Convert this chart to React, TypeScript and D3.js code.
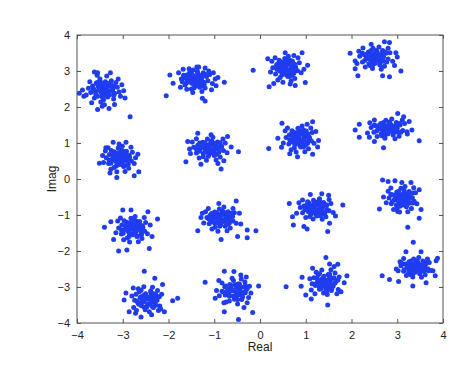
import * as d3 from 'd3';
import React, { useRef, useEffect } from 'react';

// cluster centres (real, imag)
const centres: [number, number][] = [
  [-3.40, 2.48], [-1.42, 2.75], [0.56, 3.07], [2.50, 3.37],
  [-3.08, 0.57], [-1.12, 0.85], [0.85, 1.12], [2.78, 1.40],
  [-2.80, -1.38], [-0.87, -1.10], [1.20, -0.83], [3.10, -0.55],
  [-2.47, -3.35], [-0.55, -3.12], [1.42, -2.88], [3.38, -2.45],
];

// scatter around each centre
const s1 = [[0,0],[-0.12,0.07],[0.09,-0.07],[-0.05,-0.12],[0.12,0.12],[-0.2,-0.04],[0.02,0.22],[0.18,0.02],[-0.15,-0.18],[-0.07,0.14],[0.07,-0.2],[0.22,-0.1],[-0.26,0.1],[-0.02,-0.28],[0.15,0.25],[-0.3,-0.08],[0.28,0.07],[-0.1,0.3],[0.04,0.04],[-0.18,0.18],[-0.04,-0.03],[0.11,-0.15],[-0.22,-0.23],[0.25,0.2],[-0.08,-0.34],[0.32,-0.06],[-0.35,0.04],[0.05,0.38],[-0.16,0.4],[0.2,-0.26],[-0.4,-0.15],[0.35,-0.18],[-0.28,-0.36],[0,-0.42],[0.3,0.3],[-0.48,-0.01],[-0.22,0.49],[-0.15,0.47],[0.38,0.14],[0.13,0.47],[-0.55,-0.1],[-0.45,-0.18],[0.42,-0.03],[0.1,-0.52],[-0.15,-0.55],[-0.05,-0.46],[0.45,-0.23],[0.22,-0.41],[0.56,-0.75],[-0.32,0.22],[0.14,-0.03],[-0.06,0.09],[0.03,-0.1],[-0.13,-0.01],[0.08,0.17],[-0.24,0.03],
  [0.05,0.05],[-0.08,-0.06],[0.16,-0.02],[-0.14,0.11],[0.03,-0.16],[-0.02,0.17],[0.2,0.1],[-0.19,-0.12],[0.1,-0.11],[-0.1,0.02],[0.07,0.09],[-0.16,0.2],[0.13,0.18],[-0.05,-0.2],[0.21,-0.15],[-0.24,-0.02],[0.0,0.1],[0.17,0.05],[-0.09,0.22],[0.06,-0.06]];
const s2 = [[0.02,0.01],[-0.1,0.08],[0.12,-0.05],[-0.06,-0.1],[0.08,0.14],[-0.17,-0.02],[0.15,0.06],[0.01,-0.17],[-0.12,0.2],[0.2,-0.12],[-0.22,-0.14],[0.05,0.24],[0.25,0.1],[-0.03,0.12],[0.1,-0.2],[-0.25,0.13],[0.18,0.2],[-0.08,-0.25],[0.28,-0.02],[-0.3,0.03],[0.06,-0.04],[-0.14,0.05],[0.13,0.02],[-0.04,0.28],[0.22,-0.22],[-0.18,-0.26],[0.32,0.15],[-0.32,-0.2],[0.38,-0.1],[0.08,0.36],[-0.05,-0.35],[0.3,0.25],[-0.36,0.2],[0.44,0.03],[-0.26,0.3],[0.15,-0.32],[0.16,-0.51],[0.22,-0.58],[0.36,-0.27],[-0.28,-0.05],[0.5,0.07],[0.64,-0.06],[-0.48,-0.09],[-0.55,0.14],[-0.63,-0.44],[0.04,0.36],[0.22,0.33],[-0.13,0.31],[0.4,0.2],[0.46,-0.16],[-0.01,-0.08],[0.07,0.07],[-0.09,-0.02],[0.1,0.1],
  [-0.04,0.04],[0.09,-0.08],[-0.15,0.0],[0.14,0.12],[0.0,-0.14],[-0.07,0.17],[0.19,-0.06],[-0.2,-0.1],[0.06,0.19],[-0.11,-0.06],[0.11,0.04],[-0.02,-0.22],[0.23,0.15],[-0.18,0.14],[0.04,-0.1],[0.16,-0.17],[-0.09,0.1],[0.02,0.07],[-0.23,0.06],[0.12,-0.13]];
const s3 = [[0,0],[-0.09,0.06],[0.1,-0.04],[-0.04,-0.11],[0.06,0.12],[-0.15,-0.05],[0.14,0.08],[0.02,-0.18],[-0.1,0.18],[0.18,-0.13],[-0.2,0.1],[0.05,0.22],[0.22,0.04],[-0.05,0.09],[0.09,-0.22],[-0.22,-0.15],[0.15,0.2],[-0.12,-0.25],[0.26,-0.06],[-0.28,0.02],[0.04,-0.05],[-0.13,0.03],[0.12,0.01],[-0.02,0.28],[0.2,-0.28],[-0.17,-0.32],[0.3,0.16],[-0.3,0.2],[0.34,-0.12],[0.06,0.34],[-0.06,-0.38],[0.27,0.3],[-0.33,-0.1],[0.12,-0.35],[-0.23,0.3],[0.08,-0.06],[-0.07,-0.02],[0.03,0.15],[-0.71,-0.05],[-0.36,-0.51],[0.21,-0.47],[0.43,-0.39],[0.48,0.09],[0.36,0.44],[-0.01,0.44],[-0.39,0.27],[0.4,-0.02],[-0.26,-0.42],[0.1,-0.43],[0.18,0.36],
  [0.03,-0.03],[-0.06,0.1],[0.12,0.06],[-0.12,-0.08],[0.07,-0.13],[-0.02,0.19],[0.17,-0.08],[-0.17,0.13],[0.09,0.17],[-0.08,-0.18],[0.14,-0.18],[-0.19,-0.02],[0.0,0.08],[0.2,0.12],[-0.1,0.04],[0.05,-0.22],[-0.04,-0.08],[0.11,0.22],[-0.14,0.23],[0.21,-0.02]];
const s4 = [[0,0],[-0.11,0.05],[0.09,-0.06],[-0.05,-0.1],[0.07,0.1],[-0.18,-0.03],[0.16,0.05],[0.01,-0.16],[-0.13,0.16],[0.2,-0.1],[-0.22,0.08],[0.04,0.2],[0.25,0.12],[-0.06,0.08],[0.12,-0.2],[-0.26,-0.12],[0.18,0.2],[-0.1,-0.22],[0.3,-0.04],[-0.32,0.04],[0.05,-0.03],[-0.15,0.02],[0.13,0.03],[-0.03,0.26],[0.22,-0.24],[-0.2,-0.26],[0.34,0.14],[-0.34,0.18],[0.4,-0.1],[0.1,0.3],[-0.04,-0.3],[0.3,0.26],[-0.38,-0.16],[0.15,-0.32],[-0.25,0.27],[0.08,-0.05],[-0.08,-0.01],[0.02,0.13],[0.58,-0.37],[0.33,-0.53],[0.18,-0.5],[-0.36,-0.5],[-0.42,-0.31],[-0.53,0.12],[-0.42,-0.09],[0.22,0.44],[-0.07,0.37],[0.47,0.14],[0.33,0.42],[0.44,-0.22],[0.5,0.02],
  [-0.02,0.03],[0.1,0.07],[-0.09,-0.05],[0.15,-0.09],[-0.16,0.1],[0.02,-0.12],[0.06,0.17],[-0.21,-0.08],[0.2,0.02],[-0.07,0.2],[0.12,-0.16],[-0.12,-0.17],[0.24,0.16],[-0.26,0.12],[0.0,0.09],[0.17,0.12],[-0.04,-0.21],[0.08,-0.02],[-0.14,0.0],[0.27,-0.12]];
const s5 = [[0,0],[-0.1,0.07],[0.1,-0.05],[-0.05,-0.11],[0.08,0.13],[-0.16,-0.03],[0.15,0.07],[0.02,-0.17],[-0.11,0.19],[0.19,-0.12],[-0.21,0.11],[0.05,0.23],[0.23,0.03],[-0.04,0.1],[0.1,-0.22],[-0.23,-0.14],[0.16,0.2],[-0.11,-0.25],[0.27,-0.07],[-0.28,0.02],[0.04,-0.04],[-0.13,0.04],[0.12,0.02],[-0.02,0.29],[0.21,-0.27],[-0.18,-0.3],[0.29,0.17],[-0.3,0.21],[0.33,-0.14],[0.07,0.34],[-0.05,-0.37],[0.26,0.31],[-0.34,-0.11],[0.13,-0.36],[-0.24,0.3],[0.07,-0.07],[-0.06,-0.01],[0.03,0.14],[-0.05,-0.53],[0.33,-0.48],[0.43,-0.37],[-0.43,-0.13],[-0.13,0.45],[0.15,0.45],[0.41,0.12],[-0.29,0.3],[0.36,0.02],[-0.36,0.08],[0.0,0.4],[-0.2,-0.4],
  [0.04,0.02],[-0.08,-0.07],[0.13,0.1],[-0.13,0.08],[0.02,-0.13],[-0.03,0.16],[0.18,-0.04],[-0.18,-0.13],[0.09,0.2],[-0.1,0.0],[0.08,-0.09],[-0.17,0.22],[0.15,0.16],[-0.06,-0.21],[0.2,-0.16],[-0.22,-0.04],[0.01,0.07],[0.12,-0.2],[-0.07,0.12],[0.22,0.08]];
const s6 = [[0,0],[-0.12,0.06],[0.11,-0.06],[-0.06,-0.1],[0.09,0.11],[-0.19,-0.03],[0.17,0.06],[0.01,-0.16],[-0.13,0.17],[0.22,-0.11],[-0.24,0.09],[0.05,0.2],[0.27,0.05],[-0.05,0.09],[0.12,-0.2],[-0.27,-0.13],[0.19,0.18],[-0.12,-0.23],[0.32,-0.06],[-0.33,0.03],[0.05,-0.04],[-0.15,0.03],[0.14,0.02],[-0.03,0.26],[0.25,-0.24],[-0.21,-0.27],[0.36,0.15],[-0.36,0.18],[0.4,-0.12],[0.09,0.31],[-0.05,-0.33],[0.31,0.26],[-0.4,-0.14],[0.16,-0.32],[-0.27,0.27],[0.08,-0.06],[-0.08,-0.02],[0.03,0.12],[0.65,-0.09],[-0.5,-0.37],[0.27,-0.57],[-0.17,-0.44],[-0.24,0.42],[-0.46,0.19],[0.41,0.33],[0.49,0.04],[0.2,-0.42],[0.05,0.38],[-0.42,-0.02],[0.33,-0.34],
  [-0.03,0.02],[0.1,-0.09],[-0.16,0.04],[0.13,0.13],[0.02,-0.13],[-0.08,0.16],[0.21,-0.03],[-0.21,-0.08],[0.07,0.2],[-0.12,-0.14],[0.12,0.0],[-0.01,-0.22],[0.25,0.16],[-0.2,0.15],[0.05,-0.08],[0.17,-0.16],[-0.1,0.08],[0.03,0.09],[-0.27,-0.02],[0.28,0.05]];
const s7 = [[0,0],[-0.1,0.06],[0.1,-0.05],[-0.05,-0.12],[0.07,0.12],[-0.16,-0.04],[0.15,0.07],[0.02,-0.18],[-0.11,0.18],[0.19,-0.13],[-0.21,0.1],[0.04,0.22],[0.23,0.04],[-0.05,0.09],[0.1,-0.23],[-0.22,-0.15],[0.16,0.21],[-0.1,-0.26],[0.27,-0.06],[-0.28,0.03],[0.04,-0.05],[-0.13,0.03],[0.12,0.02],[-0.02,0.29],[0.21,-0.28],[-0.17,-0.31],[0.29,0.17],[-0.3,0.22],[0.33,-0.13],[0.07,0.35],[-0.06,-0.37],[0.26,0.3],[-0.34,-0.12],[0.13,-0.36],[-0.25,0.3],[0.07,-0.07],[-0.06,-0.02],[0.03,0.14],[-0.66,-0.27],[-0.03,-0.5],[0.3,-0.43],[0.41,-0.23],[0.43,-0.05],[0.3,0.47],[-0.37,0.43],[-0.46,0.01],[0.37,0.2],[-0.38,-0.24],[0.18,0.4],[-0.2,-0.42],
  [0.03,-0.02],[-0.07,0.09],[0.12,0.07],[-0.13,-0.09],[0.06,-0.13],[-0.02,0.18],[0.18,-0.09],[-0.17,0.12],[0.1,0.18],[-0.09,-0.17],[0.15,-0.17],[-0.2,-0.03],[0.0,0.07],[0.2,0.13],[-0.11,0.04],[0.04,-0.23],[-0.04,-0.07],[0.1,0.24],[-0.15,0.22],[0.22,-0.01]];
const s8 = [[0,0],[-0.12,0.05],[0.11,-0.05],[-0.06,-0.09],[0.09,0.1],[-0.2,-0.02],[0.18,0.05],[0.02,-0.14],[-0.14,0.14],[0.23,-0.1],[-0.25,0.08],[0.05,0.18],[0.28,0.1],[-0.06,0.08],[0.13,-0.18],[-0.29,-0.1],[0.2,0.17],[-0.12,-0.2],[0.34,-0.05],[-0.35,0.03],[0.05,-0.03],[-0.16,0.02],[0.15,0.02],[-0.03,0.23],[0.26,-0.21],[-0.22,-0.22],[0.38,0.14],[-0.38,0.16],[0.43,-0.09],[0.1,0.27],[-0.05,-0.27],[0.33,0.24],[-0.43,-0.12],[0.17,-0.28],[-0.28,0.24],[0.09,-0.05],[-0.09,-0.01],[0.03,0.11],[-0.7,-0.04],[-0.61,-0.24],[-0.39,-0.24],[-0.28,-0.36],[-0.08,-0.53],[0.7,-0.34],[0.54,-0.04],[0.23,0.42],[-0.61,0.12],[0.44,-0.15],[0.48,0.2],[0.36,0.33],
  [-0.02,0.02],[0.11,0.06],[-0.1,-0.05],[0.16,-0.08],[-0.17,0.09],[0.02,-0.1],[0.06,0.15],[-0.23,-0.07],[0.22,0.01],[-0.08,0.17],[0.13,-0.13],[-0.13,-0.14],[0.27,0.14],[-0.28,0.1],[0.0,0.08],[0.19,0.1],[-0.04,-0.18],[0.08,-0.01],[-0.15,0.0],[0.3,-0.1]];
const s9 = [[0,0],[-0.1,0.07],[0.1,-0.05],[-0.06,-0.11],[0.08,0.12],[-0.17,-0.03],[0.15,0.07],[0.02,-0.17],[-0.11,0.18],[0.2,-0.12],[-0.22,0.1],[0.05,0.22],[0.24,0.04],[-0.04,0.09],[0.11,-0.22],[-0.23,-0.15],[0.17,0.2],[-0.1,-0.26],[0.28,-0.07],[-0.29,0.02],[0.04,-0.04],[-0.13,0.04],[0.13,0.02],[-0.02,0.29],[0.22,-0.27],[-0.18,-0.31],[0.3,0.17],[-0.31,0.21],[0.34,-0.14],[0.07,0.34],[-0.05,-0.37],[0.27,0.31],[-0.35,-0.11],[0.14,-0.36],[-0.25,0.3],[0.07,-0.07],[-0.06,-0.01],[0.03,0.14],[-0.6,0.04],[0.56,0.27],[-0.29,-0.62],[-0.11,-0.59],[0.38,-0.55],[-0.2,0.52],[-0.02,0.52],[0.35,0.47],[-0.46,0.19],[0.44,-0.22],[0.4,0.1],[-0.4,-0.3],
  [0.04,0.03],[-0.08,-0.07],[0.14,0.1],[-0.14,0.09],[0.02,-0.14],[-0.03,0.17],[0.19,-0.04],[-0.19,-0.13],[0.09,0.21],[-0.1,0.0],[0.08,-0.1],[-0.17,0.22],[0.16,0.16],[-0.06,-0.22],[0.21,-0.17],[-0.23,-0.04],[0.01,0.07],[0.12,-0.21],[-0.07,0.12],[0.23,0.08]];
const s10 = [[0,0],[-0.11,0.06],[0.1,-0.06],[-0.05,-0.11],[0.08,0.12],[-0.17,-0.04],[0.16,0.06],[0.01,-0.17],[-0.12,0.18],[0.2,-0.12],[-0.22,0.09],[0.04,0.21],[0.24,0.05],[-0.05,0.09],[0.11,-0.21],[-0.24,-0.14],[0.17,0.19],[-0.11,-0.24],[0.28,-0.07],[-0.29,0.03],[0.05,-0.04],[-0.14,0.04],[0.13,0.01],[-0.02,0.27],[0.22,-0.26],[-0.18,-0.29],[0.31,0.16],[-0.32,0.19],[0.35,-0.13],[0.08,0.32],[-0.05,-0.35],[0.28,0.28],[-0.36,-0.12],[0.15,-0.34],[-0.26,0.28],[0.08,-0.06],[-0.07,-0.02],[0.02,0.13],[-0.49,-0.34],[0.02,-0.58],[0.38,-0.5],[0.59,-0.53],[0.78,-0.34],[0.59,-0.32],[0.35,0.49],[-0.03,0.42],[-0.42,0.03],[-0.39,0.15],[0.45,-0.15],[0.42,0.15],
  [-0.03,0.03],[0.1,-0.08],[-0.15,0.04],[0.13,0.12],[0.01,-0.13],[-0.08,0.16],[0.2,-0.04],[-0.2,-0.09],[0.07,0.19],[-0.12,-0.13],[0.12,0.01],[-0.01,-0.21],[0.24,0.15],[-0.19,0.14],[0.05,-0.08],[0.17,-0.15],[-0.1,0.08],[0.03,0.09],[-0.25,-0.01],[0.27,0.06]];
const s11 = [[0,0],[-0.12,0.05],[0.11,-0.05],[-0.06,-0.1],[0.08,0.11],[-0.19,-0.03],[0.17,0.06],[0.02,-0.15],[-0.13,0.16],[0.22,-0.11],[-0.24,0.08],[0.05,0.19],[0.26,0.11],[-0.06,0.08],[0.12,-0.19],[-0.27,-0.11],[0.19,0.18],[-0.11,-0.21],[0.31,-0.05],[-0.32,0.04],[0.05,-0.03],[-0.15,0.02],[0.14,0.02],[-0.03,0.24],[0.24,-0.22],[-0.2,-0.24],[0.35,0.15],[-0.35,0.17],[0.4,-0.1],[0.1,0.28],[-0.04,-0.28],[0.31,0.26],[-0.4,-0.12],[0.16,-0.29],[-0.27,0.25],[0.08,-0.05],[-0.08,-0.01],[0.02,0.12],[-0.47,-0.45],[-0.24,-0.49],[-0.17,-0.56],[0.28,-0.63],[0.32,-0.4],[0.61,0.11],[-0.56,0.15],[-0.49,-0.22],[0.15,0.42],[0.3,0.38],[-0.1,0.4],[0.45,-0.2],
  [0.02,-0.02],[-0.08,0.08],[0.12,0.06],[-0.14,-0.08],[0.06,-0.12],[-0.02,0.16],[0.19,-0.08],[-0.18,0.11],[0.1,0.16],[-0.09,-0.15],[0.16,-0.15],[-0.22,-0.02],[0.0,0.06],[0.22,0.12],[-0.11,0.03],[0.04,-0.2],[-0.04,-0.06],[0.1,0.21],[-0.16,0.2],[0.26,-0.01]];
const s12 = [[0,0],[-0.1,0.07],[0.1,-0.05],[-0.05,-0.11],[0.08,0.13],[-0.17,-0.03],[0.15,0.07],[0.02,-0.17],[-0.11,0.19],[0.2,-0.12],[-0.21,0.11],[0.05,0.23],[0.23,0.03],[-0.04,0.1],[0.1,-0.22],[-0.23,-0.14],[0.16,0.2],[-0.1,-0.25],[0.27,-0.07],[-0.28,0.02],[0.04,-0.04],[-0.13,0.04],[0.12,0.02],[-0.02,0.29],[0.21,-0.27],[-0.18,-0.3],[0.3,0.17],[-0.3,0.21],[0.33,-0.14],[0.07,0.34],[-0.05,-0.37],[0.26,0.31],[-0.34,-0.11],[0.13,-0.36],[-0.24,0.3],[0.07,-0.07],[-0.06,-0.01],[0.03,0.14],[0.13,-0.79],[0.38,-0.54],[-0.49,-0.28],[-0.09,-0.35],[-0.42,0.52],[-0.3,0.48],[0.2,0.45],[0.38,0.25],[-0.4,0.05],[0.42,-0.3],[-0.15,0.5],[0.0,0.45],
  [-0.02,0.03],[0.1,0.07],[-0.09,-0.05],[0.15,-0.09],[-0.16,0.1],[0.02,-0.12],[0.06,0.17],[-0.21,-0.08],[0.2,0.02],[-0.07,0.2],[0.12,-0.16],[-0.12,-0.17],[0.24,0.16],[-0.24,0.12],[0.0,0.09],[0.17,0.12],[-0.04,-0.21],[0.08,-0.02],[-0.14,0.0],[0.25,-0.12]];
const s13 = [[0.01,0.02],[-0.08,-0.06],[0.12,0.04],[-0.03,0.13],[0.06,-0.12],[-0.15,0.06],[0.17,-0.08],[0.0,-0.2],[-0.12,-0.17],[0.19,0.14],[-0.2,-0.09],[0.08,0.24],[0.22,-0.02],[-0.06,-0.04],[0.09,0.19],[-0.24,0.15],[0.14,-0.22],[-0.13,0.26],[0.27,0.08],[-0.27,-0.02],[0.03,0.05],[-0.11,-0.03],[0.1,-0.01],[-0.04,-0.28],[0.23,0.25],[-0.19,0.3],[0.28,-0.18],[-0.29,-0.22],[0.32,0.15],[0.05,-0.34],[-0.07,0.36],[0.25,-0.3],[-0.33,0.1],[0.12,0.34],[-0.23,-0.3],[0.06,0.08],[-0.05,0.01],[0.02,-0.13],[-0.06,0.79],[0.17,0.59],[0.34,0.42],[0.67,0.04],[0.56,-0.03],[0.38,-0.34],[0.3,-0.26],[-0.13,-0.48],[-0.5,-0.01],[-0.46,0.18],[-0.39,-0.34],[-0.25,-0.38],[0.1,-0.42],[-0.3,0.32],
  [0.04,0.02],[-0.08,-0.07],[0.13,0.1],[-0.13,0.08],[0.02,-0.13],[-0.03,0.16],[0.18,-0.04],[-0.18,-0.13],[0.09,0.2],[-0.1,0.0],[0.08,-0.09],[-0.17,0.22],[0.15,0.16],[-0.06,-0.21],[0.2,-0.16],[-0.22,-0.04],[0.01,0.07],[0.12,-0.2],[-0.07,0.12],[0.22,0.08]];
const s14 = [[0.02,-0.01],[-0.09,0.08],[0.11,0.05],[-0.04,-0.13],[0.07,-0.1],[-0.14,-0.06],[0.16,-0.09],[0.01,0.18],[-0.11,0.19],[0.2,0.12],[-0.21,-0.1],[0.06,-0.23],[0.23,-0.04],[-0.06,0.05],[0.1,0.2],[-0.22,0.13],[0.15,-0.23],[-0.12,-0.27],[0.27,0.08],[-0.28,0.0],[0.04,0.06],[-0.12,-0.02],[0.11,0.0],[-0.03,0.3],[0.22,0.26],[-0.19,-0.3],[0.3,-0.17],[-0.28,0.23],[0.32,0.14],[0.06,-0.35],[-0.06,0.36],[0.27,-0.32],[-0.34,-0.12],[0.14,0.34],[-0.24,-0.32],[0.05,0.09],[-0.05,0.02],[0.03,-0.12],[-0.65,0.25],[-0.23,0.56],[-0.02,0.55],[0.13,0.45],[0.25,0.4],[0.52,0.15],[0.39,-0.59],[0.08,-0.78],[-0.23,-0.57],[-0.43,-0.19],[-0.4,0.02],[0.35,-0.05],[-0.35,0.3],[0.2,-0.45],
  [-0.03,0.02],[0.1,-0.09],[-0.16,0.04],[0.13,0.13],[0.02,-0.13],[-0.08,0.16],[0.2,-0.03],[-0.2,-0.08],[0.07,0.2],[-0.12,-0.14],[0.12,0.0],[-0.01,-0.22],[0.23,0.16],[-0.2,0.15],[0.05,-0.08],[0.17,-0.16],[-0.1,0.08],[0.03,0.09],[-0.25,-0.02],[0.25,0.05]];
const s15 = [[-0.01,0.01],[-0.1,-0.07],[0.1,0.06],[-0.05,0.12],[0.08,-0.12],[-0.16,0.05],[0.15,-0.07],[0.02,-0.19],[-0.12,-0.18],[0.18,0.13],[-0.21,-0.08],[0.07,0.23],[0.22,0.0],[-0.05,-0.05],[0.1,0.2],[-0.24,0.14],[0.14,-0.22],[-0.12,0.25],[0.28,0.07],[-0.28,-0.03],[0.04,0.05],[-0.12,-0.03],[0.11,-0.01],[-0.03,-0.29],[0.22,0.27],[-0.19,0.29],[0.29,-0.19],[-0.3,-0.2],[0.31,0.16],[0.05,-0.33],[-0.07,0.35],[0.26,-0.31],[-0.33,0.11],[0.13,0.36],[-0.22,-0.31],[0.07,0.08],[-0.05,0.0],[0.01,-0.12],[-0.85,-0.11],[0.02,0.7],[0.1,0.52],[0.28,0.51],[0.48,0.19],[0.42,0.0],[0.06,-0.62],[-0.42,-0.34],[-0.52,-0.1],[-0.27,0.4],[-0.5,0.15],[0.35,-0.25],[0.2,0.45],[-0.3,-0.45],
  [0.03,-0.02],[-0.07,0.09],[0.12,0.07],[-0.13,-0.09],[0.06,-0.13],[-0.02,0.18],[0.18,-0.09],[-0.17,0.12],[0.1,0.18],[-0.09,-0.17],[0.15,-0.17],[-0.2,-0.03],[0.0,0.07],[0.2,0.13],[-0.11,0.04],[0.04,-0.23],[-0.04,-0.07],[0.1,0.24],[-0.15,0.22],[0.22,-0.01]];
const s16 = [[0.0,0.01],[-0.1,0.06],[0.11,-0.04],[-0.05,-0.09],[0.08,0.1],[-0.17,-0.02],[0.16,0.05],[0.01,-0.14],[-0.12,0.15],[0.2,-0.1],[-0.22,0.09],[0.05,0.18],[0.24,0.09],[-0.05,0.07],[0.11,-0.18],[-0.24,-0.11],[0.18,0.17],[-0.1,-0.2],[0.29,-0.04],[-0.3,0.04],[0.05,-0.03],[-0.14,0.02],[0.13,0.02],[-0.02,0.23],[0.23,-0.21],[-0.18,-0.23],[0.32,0.13],[-0.32,0.15],[0.36,-0.09],[0.09,0.27],[-0.04,-0.27],[0.28,0.23],[-0.36,-0.1],[0.15,-0.28],[-0.24,0.24],[0.07,-0.05],[-0.07,-0.01],[0.02,0.11],[-0.71,-0.24],[-0.55,-0.34],[-0.35,-0.4],[-0.04,-0.52],[0.25,-0.43],[0.45,-0.24],[0.47,0.18],[0.5,0.25],[-0.19,0.43],[0.14,0.43],[-0.3,0.11],[-0.03,0.69],[0.4,-0.1],[-0.4,-0.05],
  [-0.02,0.02],[0.11,0.06],[-0.1,-0.05],[0.16,-0.08],[-0.17,0.09],[0.02,-0.1],[0.06,0.15],[-0.23,-0.07],[0.22,0.01],[-0.08,0.17],[0.13,-0.13],[-0.13,-0.14],[0.27,0.14],[-0.28,0.1],[0.0,0.08],[0.19,0.1],[-0.04,-0.18],[0.08,-0.01],[-0.15,0.0],[0.3,-0.1]];

const scatters = [s1, s2, s3, s4, s5, s6, s7, s8, s9, s10, s11, s12, s13, s14, s15, s16];
const ticks = [-4, -3, -2, -1, 0, 1, 2, 3, 4];

export default function App() {
  const svgRef = useRef<SVGSVGElement>(null);
  const width = 474;
  const height = 378;

  useEffect(() => {
    if (!svgRef.current) return;
    const svg = d3.select(svgRef.current);
    svg.selectAll('*').remove();

    const margin = { top: 35, right: 31, bottom: 55, left: 77 };
    const w = width - margin.left - margin.right;
    const h = height - margin.top - margin.bottom;

    const x = d3.scaleLinear().domain([-4, 4]).range([0, w]);
    const y = d3.scaleLinear().domain([-4, 4]).range([h, 0]);

    const g = svg.append('g').attr('transform', `translate(${margin.left},${margin.top})`);

    const points: [number, number][] = [];
    scatters.forEach((s, i) => {
      s.forEach(([dx, dy]) => points.push([centres[i][0] + dx, centres[i][1] + dy]));
    });

    g.selectAll('circle')
      .data(points)
      .enter()
      .append('circle')
      .attr('cx', (d) => x(d[0]))
      .attr('cy', (d) => y(d[1]))
      .attr('r', 2.5)
      .attr('fill', '#1f3cf0');

    const font = 'Liberation Sans, Arial, sans-serif';
    const axisColor = '#555';

    const style = (sel: any) => {
      sel.select('.domain').remove();
      sel.selectAll('line').attr('stroke', axisColor);
      sel.selectAll('text').attr('font-family', font).attr('font-size', 11).attr('fill', '#222');
    };

    g.append('g').attr('transform', `translate(0,${h})`)
      .call(d3.axisBottom(x).tickValues(ticks).tickSizeInner(-4).tickSizeOuter(0).tickPadding(8))
      .call(style);
    g.append('g')
      .call(d3.axisLeft(y).tickValues(ticks).tickSizeInner(-4).tickSizeOuter(0).tickPadding(7))
      .call(style);
    g.append('g')
      .call(d3.axisTop(x).tickValues(ticks).tickSizeInner(-4).tickSizeOuter(0).tickFormat(() => ''))
      .call(style);
    g.append('g').attr('transform', `translate(${w},0)`)
      .call(d3.axisRight(y).tickValues(ticks).tickSizeInner(-4).tickSizeOuter(0).tickFormat(() => ''))
      .call(style);

    g.append('rect')
      .attr('x', 0).attr('y', 0).attr('width', w).attr('height', h)
      .attr('fill', 'none').attr('stroke', axisColor).attr('stroke-width', 1);

    g.append('text')
      .attr('x', w / 2).attr('y', h + 28)
      .attr('text-anchor', 'middle')
      .attr('font-family', font).attr('font-size', 12).attr('fill', '#222')
      .text('Real');

    g.append('text')
      .attr('transform', `translate(${-21},${h / 2}) rotate(-90)`)
      .attr('text-anchor', 'middle')
      .attr('font-family', font).attr('font-size', 12).attr('fill', '#222')
      .text('Imag');
  }, []);

  return (
    <div style={{ position: 'absolute', left: 0, top: 0 }}>
      <svg ref={svgRef} width={width} height={height} />
    </div>
  );
}
